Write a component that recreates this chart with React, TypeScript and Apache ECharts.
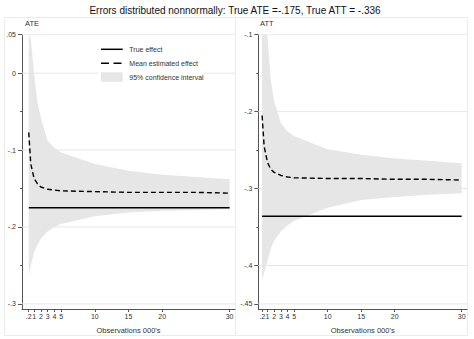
import React, { useEffect, useRef } from 'react';
import * as echarts from 'echarts';

// Observations (000's)
const obs = [0.2, 0.5, 1, 1.5, 2, 3, 4, 5, 10, 15, 20, 25, 30];

// ATE panel
const ateUpper = [0.05, 0.045, -0.002, -0.038, -0.058, -0.088, -0.097, -0.103, -0.118, -0.127, -0.132, -0.135, -0.138];
const ateLower = [-0.263, -0.25, -0.233, -0.223, -0.215, -0.206, -0.2, -0.196, -0.186, -0.181, -0.179, -0.178, -0.177];
const ateMean = [-0.077, -0.118, -0.137, -0.144, -0.148, -0.151, -0.152, -0.153, -0.154, -0.155, -0.155, -0.155, -0.156];
const trueATE = -0.175;

// ATT panel
const attUpper = [-0.07, -0.085, -0.102, -0.16, -0.186, -0.215, -0.226, -0.232, -0.249, -0.256, -0.261, -0.264, -0.267];
const attLower = [-0.418, -0.41, -0.394, -0.378, -0.368, -0.356, -0.348, -0.342, -0.325, -0.315, -0.311, -0.308, -0.306];
const attMean = [-0.205, -0.245, -0.266, -0.275, -0.279, -0.283, -0.285, -0.286, -0.287, -0.287, -0.288, -0.288, -0.289];
const trueATT = -0.336;

// Ticks
const xTicks = [0.2, 1, 2, 3, 4, 5, 10, 15, 20, 30];
const xTickLabels = ['.2', '1', '2', '3', '4', '5', '10', '15', '20', '30'];
const ateYTicks = [0.05, 0, -0.1, -0.2, -0.3];
const ateYLabels = ['.05', '0', '-.1', '-.2', '-.3'];
const ateMinor = [-0.05, -0.15, -0.25];
const attYTicks = [-0.1, -0.2, -0.3, -0.4, -0.45];
const attYLabels = ['-.1', '-.2', '-.3', '-.4', '-.45'];
const attMinor = [-0.15, -0.25, -0.35];

const titleText = 'Errors distributed nonnormally: True ATE =-.175, True ATT = -.336';
const xName = "Observations 000's";
const legendLabels = ['True effect', 'Mean estimated effect', '95% confidence interval'];

const FONT = '"Liberation Sans", Arial, sans-serif';
const AXIS = '#555';
const LABEL = '#333';
const BAND = '#e6e6e6';
const GRIDC = '#e6e6e6';

function lookup(vals: number[], labels: string[]) {
  return (v: number) => {
    const i = vals.findIndex((t) => Math.abs(t - v) < 1e-9);
    return i >= 0 ? labels[i] : '';
  };
}

function panel(
  idx: number,
  grid: { left: number; top: number; width: number; height: number },
  xMin: number,
  xMax: number,
  yMin: number,
  yMax: number,
  yTicks: number[],
  yLabels: string[],
  yMinor: number[],
  upper: number[],
  lower: number[],
  mean: number[],
  truth: number
) {
  const xAxis = {
    gridIndex: idx,
    type: 'value',
    min: xMin,
    max: xMax,
    axisLine: { show: true, onZero: false, lineStyle: { color: AXIS, width: 1 } },
    axisTick: { show: true, customValues: xTicks, length: 3, lineStyle: { color: AXIS } },
    axisLabel: {
      customValues: xTicks,
      formatter: lookup(xTicks, xTickLabels),
      fontSize: 7,
      color: LABEL,
      margin: 4,
      fontFamily: FONT,
      hideOverlap: false,
    },
    splitLine: { show: false },
    name: xName,
    nameLocation: 'middle',
    nameGap: 17,
    nameTextStyle: { fontSize: 7.5, color: LABEL, fontFamily: FONT },
  };
  const yAxes = [
    {
      gridIndex: idx,
      type: 'value',
      min: yMin,
      max: yMax,
      axisLine: { show: true, onZero: false, lineStyle: { color: AXIS, width: 1 } },
      axisTick: { show: true, customValues: yTicks, length: 4, lineStyle: { color: AXIS } },
      axisLabel: {
        customValues: yTicks,
        formatter: lookup(yTicks, yLabels),
        fontSize: 7,
        color: LABEL,
        margin: 6,
        fontFamily: FONT,
      },
      splitLine: { show: false },
    },
    {
      gridIndex: idx,
      type: 'value',
      min: yMin,
      max: yMax,
      position: 'left',
      axisLine: { show: false, onZero: false },
      axisTick: { show: true, customValues: yMinor, length: 2, lineStyle: { color: AXIS } },
      axisLabel: { show: false },
      splitLine: { show: false },
    },
  ];
  const xi = idx;
  const yi = idx * 2;
  const gridData: any[] = [];
  yTicks.forEach((v, k) => {
    if (k > 0) gridData.push('-');
    gridData.push([xMin, v], [xMax, v]);
  });
  const series: any[] = [
    {
      type: 'line',
      xAxisIndex: xi,
      yAxisIndex: yi,
      data: gridData,
      connectNulls: false,
      showSymbol: false,
      silent: true,
      lineStyle: { color: GRIDC, width: 1, type: 'solid' },
      z: 1,
    },
    {
      type: 'custom',
      xAxisIndex: xi,
      yAxisIndex: yi,
      coordinateSystem: 'cartesian2d',
      silent: true,
      z: 2,
      data: obs.map((x, i) => [x, lower[i], upper[i]]),
      encode: { x: 0, y: [1, 2] },
      renderItem: (params: any, api: any) => {
        if (params.dataIndex !== 0) return null;
        const pts: number[][] = [];
        for (let i = 0; i < obs.length; i++) pts.push(api.coord([obs[i], upper[i]]));
        for (let i = obs.length - 1; i >= 0; i--) pts.push(api.coord([obs[i], lower[i]]));
        const cs = params.coordSys;
        return {
          type: 'polygon',
          shape: { points: pts },
          style: { fill: BAND, stroke: null },
          clipPath: { type: 'rect', shape: { x: cs.x, y: cs.y, width: cs.width, height: cs.height } },
        };
      },
    },
    {
      type: 'line',
      xAxisIndex: xi,
      yAxisIndex: yi,
      data: [
        [obs[0], truth],
        [obs[obs.length - 1], truth],
      ],
      showSymbol: false,
      silent: true,
      lineStyle: { color: '#000', width: 1.5, type: 'solid' },
      z: 3,
    },
    {
      type: 'line',
      xAxisIndex: xi,
      yAxisIndex: yi,
      data: obs.map((x, i) => [x, mean[i]]),
      showSymbol: false,
      silent: true,
      lineStyle: { color: '#000', width: 1.4, type: [5, 3] },
      z: 3,
    },
  ];
  return { grid: { ...grid, containLabel: false }, xAxis, yAxes, series };
}

export default function App() {
  const ref = useRef<HTMLDivElement>(null);
  useEffect(() => {
    if (!ref.current) return;
    const chart = echarts.init(ref.current, undefined, { renderer: 'svg' });
    const H = 274.6;
    const left = panel(0, { left: 22, top: 34.7, width: 213, height: H }, -0.8, 30.8, 0.05 - H / 770, 0.05,
      ateYTicks, ateYLabels, ateMinor, ateUpper, ateLower, ateMean, trueATE);
    const right = panel(1, { left: 258.3, top: 34.7, width: 208.7, height: H }, -0.37, 30.8, -0.1 - H / 770, -0.1,
      attYTicks, attYLabels, attMinor, attUpper, attLower, attMean, trueATT);

    const lg = { x0: 101, x1: 122.7, tx: 129.3 };
    const option: any = {
      animation: false,
      textStyle: { fontFamily: FONT },
      grid: [left.grid, right.grid],
      xAxis: [left.xAxis, right.xAxis],
      yAxis: [...left.yAxes, ...right.yAxes],
      series: [...left.series, ...right.series],
      graphic: [
        { type: 'rect', z: 0, silent: true, shape: { x: 4.5, y: 17.5, width: 231, height: 318 }, style: { fill: 'none', stroke: '#ececec', lineWidth: 1 } },
        { type: 'rect', z: 0, silent: true, shape: { x: 235.5, y: 17.5, width: 232, height: 318 }, style: { fill: 'none', stroke: '#ececec', lineWidth: 1 } },
        { type: 'text', z: 100, x: 235, y: 10, style: { text: titleText, fontSize: 10, fill: '#111', fontFamily: FONT, textAlign: 'center', textVerticalAlign: 'middle' } },
        { type: 'text', z: 100, x: 25, y: 23, style: { text: 'ATE', fontSize: 7.5, fill: LABEL, fontFamily: FONT, textAlign: 'left', textVerticalAlign: 'middle' } },
        { type: 'text', z: 100, x: 260, y: 23, style: { text: 'ATT', fontSize: 7.5, fill: LABEL, fontFamily: FONT, textAlign: 'left', textVerticalAlign: 'middle' } },
        { type: 'rect', z: 100, silent: true, shape: { x: 98, y: 42, width: 106, height: 44 }, style: { fill: '#fff' } },
        { type: 'line', z: 101, shape: { x1: lg.x0, y1: 49.3, x2: lg.x1, y2: 49.3 }, style: { stroke: '#000', lineWidth: 1.5 } },
        { type: 'line', z: 101, shape: { x1: lg.x0, y1: 63.3, x2: lg.x1, y2: 63.3 }, style: { stroke: '#000', lineWidth: 1.5, lineDash: [8, 4.5] } },
        { type: 'rect', z: 101, shape: { x: lg.x0, y: 72.3, width: lg.x1 - lg.x0, height: 9.4 }, style: { fill: BAND } },
        { type: 'text', z: 101, x: lg.tx, y: 49.3, style: { text: legendLabels[0], fontSize: 7, fill: LABEL, fontFamily: FONT, textVerticalAlign: 'middle' } },
        { type: 'text', z: 101, x: lg.tx, y: 63.3, style: { text: legendLabels[1], fontSize: 7, fill: LABEL, fontFamily: FONT, textVerticalAlign: 'middle' } },
        { type: 'text', z: 101, x: lg.tx, y: 77, style: { text: legendLabels[2], fontSize: 7, fill: LABEL, fontFamily: FONT, textVerticalAlign: 'middle' } },
      ],
    };
    chart.setOption(option);
    return () => chart.dispose();
  }, []);
  return (
    <div
      ref={ref}
      style={{ position: 'fixed', left: 0, top: 0, width: 474, height: 339, background: '#fff' }}
    />
  );
}
